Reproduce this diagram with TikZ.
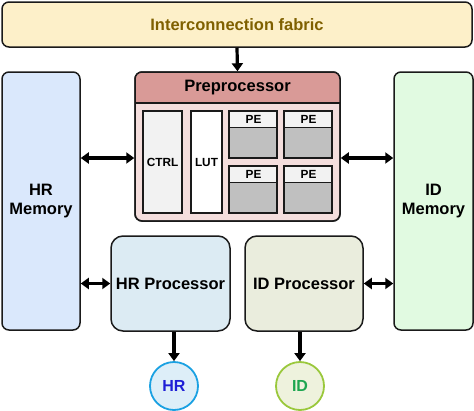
\documentclass[tikz,border=0pt]{standalone}
\usepackage{fontspec}
\setmainfont{Liberation Sans}
\usetikzlibrary{arrows.meta,calc}
\definecolor{fabfill}{HTML}{FDF0C9}
\definecolor{fabtext}{HTML}{7F6000}
\definecolor{prehead}{HTML}{D99A97}
\definecolor{prebody}{HTML}{F4DEDD}
\definecolor{lgray}{HTML}{F2F2F2}
\definecolor{mgray}{HTML}{C0C0C0}
\definecolor{hrmemfill}{HTML}{DAE8FC}
\definecolor{idmemfill}{HTML}{E1FAE1}
\definecolor{hrprocfill}{HTML}{DCEBF3}
\definecolor{idprocfill}{HTML}{EAEDDD}
\definecolor{hrcircdraw}{HTML}{1BA1E2}
\definecolor{hrcircfill}{HTML}{DDEEF8}
\definecolor{hrcirctext}{HTML}{1E1ED6}
\definecolor{idcircdraw}{HTML}{9AC83C}
\definecolor{idcircfill}{HTML}{EEF2DD}
\definecolor{idcirctext}{HTML}{1DA650}
\definecolor{edge}{HTML}{1A1A1A}
\tikzset{
  box/.style={draw=edge, line width=1.5pt, rounded corners=7pt, inner sep=0pt, font=\fontsize{16.5}{19.5}\selectfont\bfseries, align=center},
  inner/.style={draw=edge, line width=1.2pt, inner sep=0pt, font=\fontsize{11.8}{13}\selectfont\bfseries},
  circ/.style={circle, line width=1.8pt, minimum size=48pt, inner sep=0pt, font=\fontsize{16}{19}\selectfont\bfseries},
  arr/.style={line width=3.2pt, -{Triangle[length=8pt,width=11pt]}},
  darr/.style={line width=3.2pt, {Triangle[length=8pt,width=11pt]}-{Triangle[length=8pt,width=11pt]}},
}
\begin{document}
\begin{tikzpicture}[x=1pt,y=-1pt]
\useasboundingbox (0,0) rectangle (474,410);
% interconnection fabric
\node[box, fill=fabfill, text=fabtext, minimum width=470pt, minimum height=45pt] (fab) at (237,24.5) {Interconnection fabric};
% preprocessor
\node[box, fill=prebody, minimum width=205pt, minimum height=149pt] (pre) at (237.5,146.5) {};
\begin{scope}
  \clip[rounded corners=7pt] (135,72) rectangle (340,221);
  \fill[prehead] (135,72) rectangle (340,103);
\end{scope}
\draw[edge, line width=1.5pt, rounded corners=7pt] (135,72) rectangle (340,221);
\draw[edge, line width=1.2pt] (135,103) -- (340,103);
\node[font=\fontsize{16.5}{19.5}\selectfont\bfseries] (pretitle) at (237.5,87.5) {Preprocessor};
\node[inner, fill=lgray, minimum width=39pt, minimum height=102pt] (ctrl) at (162.5,162) {CTRL};
\node[inner, fill=white, minimum width=31pt, minimum height=102pt] (lut) at (206.5,162) {LUT};
% PEs
\foreach \nm/\x/\y in {pea/229/111, peb/284/111, pec/229/166, ped/284/166}{
  \fill[mgray] (\x,\y) rectangle ++(48,47);
  \node[inner, fill=lgray, minimum width=48pt, minimum height=16pt, anchor=north west] (\nm) at (\x,\y) {PE};
  \draw[edge, line width=1.2pt] (\x,\y) rectangle ++(48,47);
}
% memories
\node[box, fill=hrmemfill, minimum width=78pt, minimum height=258pt] (hrmem) at (41,201) {HR\\Memory};
\node[box, fill=idmemfill, minimum width=79pt, minimum height=258pt] (idmem) at (433.5,201) {ID\\Memory};
% processors
\node[box, fill=hrprocfill, minimum width=119pt, minimum height=95pt, rounded corners=12pt] (hrproc) at (170.5,283.5) {HR Processor};
\node[box, fill=idprocfill, minimum width=118pt, minimum height=95pt, rounded corners=12pt] (idproc) at (304,283.5) {ID Processor};
% outputs
\node[circ, draw=hrcircdraw, fill=hrcircfill, text=hrcirctext] (hr) at (174,386) {HR};
\node[circ, draw=idcircdraw, fill=idcircfill, text=idcirctext] (id) at (300,386) {ID};
% connectors
\draw[arr] (fab.south) -- (pre.north);
\draw[darr] (hrmem.east |- {0,158}) -- (pre.west |- {0,158});
\draw[darr] (pre.east |- {0,158}) -- (idmem.west |- {0,158});
\draw[darr] (hrmem.east |- hrproc.west) -- (hrproc.west);
\draw[darr] (idproc.east) -- (idmem.west |- idproc.east);
\draw[arr] (hrproc.south -| hr.north) -- (hr.north);
\draw[arr] (idproc.south -| id.north) -- (id.north);
\end{tikzpicture}
\end{document}
